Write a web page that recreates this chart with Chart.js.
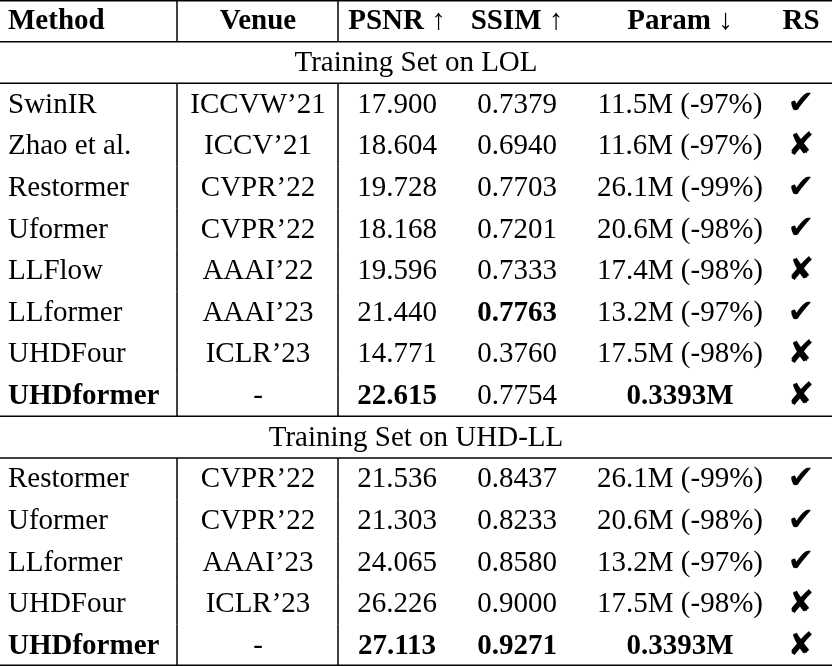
<!DOCTYPE html>
<html lang="en">
<head>
<meta charset="UTF-8" />
<title>UHDformer comparison</title>
<script src="https://cdn.jsdelivr.net/npm/chart.js"></script>
<style>body{margin:0;background:#fff}</style>
</head>
<body>
<canvas id="chart" width="832" height="666"></canvas>
<script>
// table data
const headers = ['Method', 'Venue', 'PSNR \u2191', 'SSIM \u2191', 'Param \u2193', 'RS'];
const sections = ['Training Set on LOL', 'Training Set on UHD-LL'];
const lolRows = [
  ['SwinIR', 'ICCVW\u201921', '17.900', '0.7379', '11.5M (-97%)', true],
  ['Zhao et al.', 'ICCV\u201921', '18.604', '0.6940', '11.6M (-97%)', false],
  ['Restormer', 'CVPR\u201922', '19.728', '0.7703', '26.1M (-99%)', true],
  ['Uformer', 'CVPR\u201922', '18.168', '0.7201', '20.6M (-98%)', true],
  ['LLFlow', 'AAAI\u201922', '19.596', '0.7333', '17.4M (-98%)', false],
  ['LLformer', 'AAAI\u201923', '21.440', '0.7763', '13.2M (-97%)', true],
  ['UHDFour', 'ICLR\u201923', '14.771', '0.3760', '17.5M (-98%)', false],
  ['UHDformer', '-', '22.615', '0.7754', '0.3393M', false]
];
const uhdRows = [
  ['Restormer', 'CVPR\u201922', '21.536', '0.8437', '26.1M (-99%)', true],
  ['Uformer', 'CVPR\u201922', '21.303', '0.8233', '20.6M (-98%)', true],
  ['LLformer', 'AAAI\u201923', '24.065', '0.8580', '13.2M (-97%)', true],
  ['UHDFour', 'ICLR\u201923', '26.226', '0.9000', '17.5M (-98%)', false],
  ['UHDformer', '-', '27.113', '0.9271', '0.3393M', false]
];
// bold cells: "row:col" keys in the table order below
const boldCells = ['9:0', '9:2', '9:4', '7:3', '15:0', '15:2', '15:3', '15:4'];

const colX = [8, 258, 397, 517, 680, 801];
const vLines = [177, 338];
const SERIF = '"Liberation Serif", "DejaVu Serif", serif';

const rows = [];
rows.push({ type: 'head', cells: headers });
rows.push({ type: 'sec', text: sections[0] });
lolRows.forEach(r => rows.push({ type: 'row', cells: r }));
rows.push({ type: 'sec', text: sections[1] });
uhdRows.forEach(r => rows.push({ type: 'row', cells: r }));

const tablePlugin = {
  id: 'table',
  afterDraw(chart) {
    const ctx = chart.ctx, xs = chart.scales.x, ys = chart.scales.y;
    const X = v => xs.getPixelForValue(v), Y = v => ys.getPixelForValue(v);
    ctx.save();
    ctx.fillStyle = '#000';
    ctx.strokeStyle = '#000';
    ctx.textBaseline = 'middle';
    rows.forEach((r, i) => {
      const y = Y(i) + 1;
      if (r.type === 'sec') {
        ctx.font = '29px ' + SERIF;
        ctx.textAlign = 'center';
        ctx.fillText(r.text, X(416), y);
        return;
      }
      r.cells.forEach((c, j) => {
        const bold = r.type === 'head' || boldCells.includes(i + ':' + j);
        ctx.textAlign = j === 0 ? 'left' : 'center';
        if (j === 5 && r.type === 'row') {
          ctx.font = 'bold 32px "DejaVu Sans"';
          ctx.fillText(c ? '\u2714' : '\u2718', X(colX[j]), y);
        } else {
          ctx.font = (bold ? 'bold ' : '') + '29px ' + SERIF;
          ctx.fillText(c, X(colX[j]), y);
        }
      });
      ctx.lineWidth = 1.5;
      vLines.forEach(vx => {
        ctx.beginPath();
        ctx.moveTo(X(vx), Y(i - 0.5));
        ctx.lineTo(X(vx), Y(i + 0.5));
        ctx.stroke();
      });
    });
    [[-0.5, 3], [0.5, 1.5], [1.5, 1.5], [9.5, 1.5], [10.5, 1.5], [15.5, 3]].forEach(([v, w]) => {
      ctx.lineWidth = w;
      ctx.beginPath();
      ctx.moveTo(X(0), Y(v));
      ctx.lineTo(X(832), Y(v));
      ctx.stroke();
    });
    ctx.restore();
  }
};

function draw() {
  new Chart(document.getElementById('chart'), {
    type: 'scatter',
    data: { datasets: [{ data: [] }] },
    options: {
      responsive: false,
      animation: false,
      layout: { padding: 0 },
      plugins: { legend: { display: false }, tooltip: { enabled: false } },
      scales: {
        x: { type: 'linear', min: 0, max: 832, display: false },
        y: { type: 'linear', min: -0.5, max: rows.length - 0.5, reverse: true, display: false }
      }
    },
    plugins: [tablePlugin]
  });
}

Promise.all([
  document.fonts.load('29px "Liberation Serif"'),
  document.fonts.load('bold 29px "Liberation Serif"'),
  document.fonts.load('bold 32px "DejaVu Sans"')
]).then(draw, draw);
</script>
</body>
</html>
